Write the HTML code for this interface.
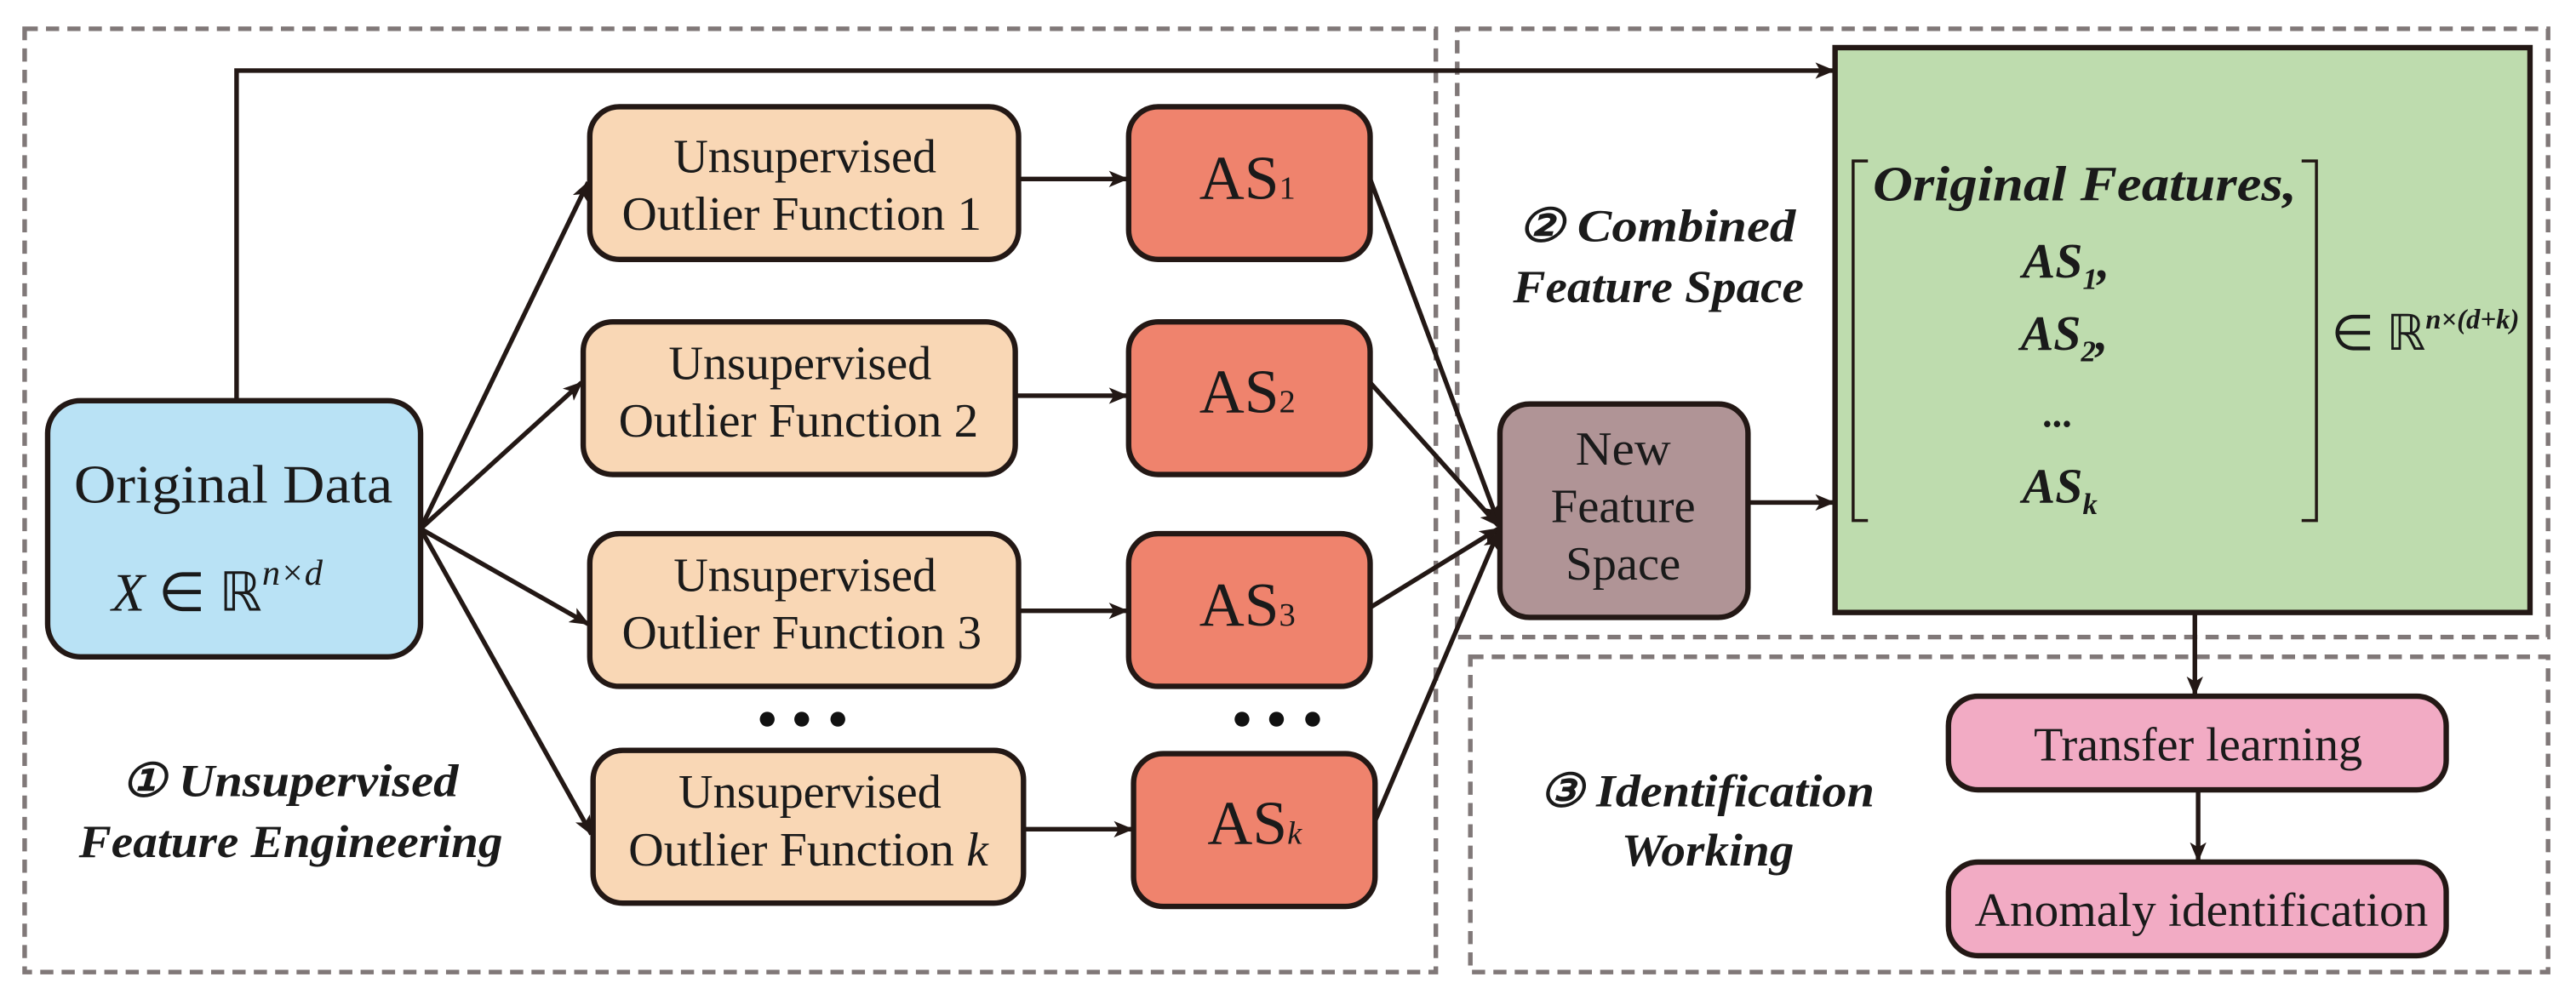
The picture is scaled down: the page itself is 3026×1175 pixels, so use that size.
<!DOCTYPE html>
<html><head><meta charset="utf-8"><style>
html,body{margin:0;padding:0;background:#fff;}
svg{display:block;}
text{font-family:"Liberation Serif",serif;fill:#1a1a1a;}
</style></head><body>
<svg width="3026" height="1175" viewBox="0 0 1568 609" preserveAspectRatio="none" xmlns="http://www.w3.org/2000/svg">
<defs>
<marker id="a" markerWidth="12" markerHeight="10" refX="11" refY="5" orient="auto" markerUnits="userSpaceOnUse">
<path d="M0,0 L12,5 L0,10 L3,5 z" fill="#231815"/></marker>
</defs>
<g fill="none" stroke="#807878" stroke-width="2.8" stroke-dasharray="8,5">
<rect x="15" y="17.5" width="859" height="574.5"/>
<rect x="887" y="17.5" width="664" height="370.5"/>
<rect x="895" y="400" width="656" height="192"/>
</g>
<g stroke="#231815" stroke-width="2.8" fill="none">
<polyline points="144,244 144,43 1116,43" marker-end="url(#a)"/>
<line x1="256" y1="322" x2="358" y2="111" marker-end="url(#a)"/>
<line x1="256" y1="322" x2="354" y2="233" marker-end="url(#a)"/>
<line x1="256" y1="322" x2="358" y2="380" marker-end="url(#a)"/>
<line x1="256" y1="322" x2="360" y2="508" marker-end="url(#a)"/>
<line x1="620" y1="109" x2="686" y2="109" marker-end="url(#a)"/>
<line x1="618" y1="241" x2="686" y2="241" marker-end="url(#a)"/>
<line x1="620" y1="372" x2="686" y2="372" marker-end="url(#a)"/>
<line x1="623" y1="505" x2="689" y2="505" marker-end="url(#a)"/>
<line x1="834" y1="109" x2="912" y2="318" marker-end="url(#a)"/>
<line x1="834" y1="233" x2="912" y2="320" marker-end="url(#a)"/>
<line x1="834" y1="370" x2="912" y2="322" marker-end="url(#a)"/>
<line x1="837" y1="500" x2="912" y2="324" marker-end="url(#a)"/>
<line x1="1064" y1="306" x2="1116" y2="306" marker-end="url(#a)"/>
<line x1="1336" y1="373" x2="1336" y2="423" marker-end="url(#a)"/>
<line x1="1338" y1="481" x2="1338" y2="524" marker-end="url(#a)"/>
</g>
<g stroke="#231815" stroke-width="3.3">
<rect x="29" y="244" width="227" height="156" rx="20" fill="#b9e2f5"/>
<rect x="359" y="65" width="261" height="93" rx="18" fill="#f9d7b5"/>
<rect x="355" y="196" width="263" height="93" rx="18" fill="#f9d7b5"/>
<rect x="359" y="325" width="261" height="93" rx="18" fill="#f9d7b5"/>
<rect x="361" y="457" width="262" height="93" rx="18" fill="#f9d7b5"/>
<rect x="687" y="65" width="147" height="93" rx="18" fill="#ef836d"/>
<rect x="687" y="196" width="147" height="93" rx="18" fill="#ef836d"/>
<rect x="687" y="325" width="147" height="93" rx="18" fill="#ef836d"/>
<rect x="690" y="459" width="147" height="93" rx="18" fill="#ef836d"/>
<rect x="913" y="246" width="151" height="130" rx="18" fill="#b09496"/>
<rect x="1117" y="29" width="423" height="344" fill="#bedcae"/>
<rect x="1186" y="424" width="303" height="57" rx="18" fill="#f2abc4"/>
<rect x="1186" y="525" width="303" height="57" rx="18" fill="#f2abc4"/>
</g>
<g fill="#111">
<circle cx="467" cy="438" r="4.5"/><circle cx="488" cy="438" r="4.5"/><circle cx="510" cy="438" r="4.5"/>
<circle cx="756" cy="438" r="4.5"/><circle cx="777" cy="438" r="4.5"/><circle cx="799" cy="438" r="4.5"/>
</g>
<text x="45" y="306" font-size="33" textLength="194" lengthAdjust="spacingAndGlyphs">Original Data</text>
<text x="68" y="372" font-size="33"><tspan font-style="italic">X</tspan> ∈ ℝ<tspan font-style="italic" font-size="22" dy="-16">n×d</tspan></text>
<g font-size="29" text-anchor="middle">
<text x="490" y="105" textLength="160" lengthAdjust="spacingAndGlyphs">Unsupervised</text><text x="488" y="140" textLength="219" lengthAdjust="spacingAndGlyphs">Outlier Function 1</text>
<text x="487" y="231" textLength="160" lengthAdjust="spacingAndGlyphs">Unsupervised</text><text x="486" y="266" textLength="219" lengthAdjust="spacingAndGlyphs">Outlier Function 2</text>
<text x="490" y="360" textLength="160" lengthAdjust="spacingAndGlyphs">Unsupervised</text><text x="488" y="395" textLength="219" lengthAdjust="spacingAndGlyphs">Outlier Function 3</text>
<text x="493" y="492" textLength="160" lengthAdjust="spacingAndGlyphs">Unsupervised</text><text x="492" y="527" textLength="219" lengthAdjust="spacingAndGlyphs">Outlier Function <tspan font-style="italic">k</tspan></text>
<text x="988" y="283" textLength="58" lengthAdjust="spacingAndGlyphs">New</text>
<text x="988" y="318" textLength="88" lengthAdjust="spacingAndGlyphs">Feature</text>
<text x="988" y="353" textLength="70" lengthAdjust="spacingAndGlyphs">Space</text>
<text x="1338" y="463" textLength="200" lengthAdjust="spacingAndGlyphs">Transfer learning</text>
<text x="1340" y="564" textLength="276" lengthAdjust="spacingAndGlyphs">Anomaly identification</text>
</g>
<g font-size="38">
<text x="730" y="121">AS<tspan font-size="20">1</tspan></text>
<text x="730" y="251">AS<tspan font-size="20">2</tspan></text>
<text x="730" y="381">AS<tspan font-size="20">3</tspan></text>
<text x="735" y="514">AS<tspan font-size="20" font-style="italic">k</tspan></text>
</g>
<g font-size="28" font-style="italic" font-weight="bold">
<text x="74" y="485" textLength="205" lengthAdjust="spacingAndGlyphs">① Unsupervised</text>
<text x="48" y="522" textLength="258" lengthAdjust="spacingAndGlyphs">Feature Engineering</text>
<text x="924" y="147" textLength="169" lengthAdjust="spacingAndGlyphs">②  Combined</text>
<text x="921" y="184" textLength="177" lengthAdjust="spacingAndGlyphs">Feature Space</text>
<text x="937" y="491" textLength="204" lengthAdjust="spacingAndGlyphs">③ Identification</text>
<text x="987" y="527" textLength="105" lengthAdjust="spacingAndGlyphs">Working</text>
</g>
<g stroke="#231815" stroke-width="1.8" fill="none">
<polyline points="1137,98 1128,98 1128,317 1137,317"/>
<polyline points="1401,98 1410,98 1410,317 1401,317"/>
</g>
<g font-size="30" font-style="italic" font-weight="bold">
<text x="1140" y="122" textLength="258" lengthAdjust="spacingAndGlyphs">Original    Features,</text>
<text x="1231" y="169">AS<tspan font-size="18" dy="7">1</tspan><tspan dy="-7">,</tspan></text>
<text x="1230" y="213">AS<tspan font-size="18" dy="7">2</tspan><tspan dy="-7">,</tspan></text>
<text x="1244" y="260" font-size="24">...</text>
<text x="1231" y="306">AS<tspan font-size="18" dy="7">k</tspan></text>
</g>
<text x="1419" y="213" font-size="30">∈ ℝ<tspan font-size="17" font-style="italic" font-weight="bold" dy="-13">n×(d+k)</tspan></text>
</svg>
</body></html>
